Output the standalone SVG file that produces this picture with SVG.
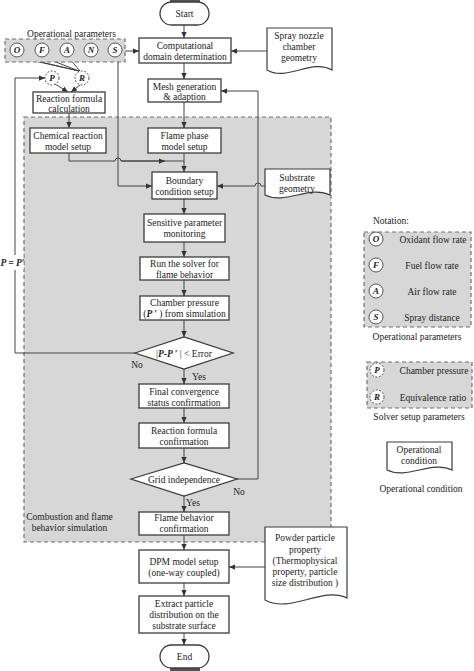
<svg xmlns="http://www.w3.org/2000/svg" width="474" height="671" viewBox="0 0 474 671">
<defs>
<style>
text{font-family:"Liberation Serif","Times New Roman",serif;font-size:9.5px;fill:#222;text-anchor:middle}
.box{fill:#fff;stroke:#3c3c3c;stroke-width:1.3}
.doc{fill:#fff;stroke:#3c3c3c;stroke-width:1.2}
.dash{fill:#d7d7d7;stroke:#707070;stroke-width:1.2;stroke-dasharray:4 3}
.ln{fill:none;stroke:#444;stroke-width:1}
.arr{fill:none;stroke:#444;stroke-width:1;marker-end:url(#ah)}
.cir{fill:#fff;stroke:#555;stroke-width:1}
.dcir{fill:#fff;stroke:#555;stroke-width:1;stroke-dasharray:2 1.5}
.sym{font-weight:bold;font-style:italic;font-size:9px}
.bi{font-weight:bold;font-style:italic}
.l{text-anchor:start}
</style>
<marker id="ah" viewBox="0 0 8 8" refX="8" refY="4" markerWidth="6" markerHeight="6" orient="auto" markerUnits="userSpaceOnUse">
<path d="M0,0.5 L8,4 L0,7.5 Z" fill="#333"/>
</marker>
</defs>

<!-- region -->
<g id="region">
<rect class="dash" x="24" y="117" width="307" height="425"/>
<text x="69.5" y="519.5">Combustion and flame</text>
<text x="69.5" y="530.5">behavior simulation</text>
</g>

<!-- connectors -->
<g id="connectors">
<path class="arr" d="M184,25 V38"/>
<path class="arr" d="M125,51 H139"/>
<path class="arr" d="M267,51 H231"/>
<path class="arr" d="M184,63 V79"/>
<path class="arr" d="M184,102 V128"/>
<path class="ln" d="M17,57 L79,71 M20,57 L79,71 M43,57 L79,71 M68,57 L80,71"/>
<path class="arr" d="M55,84 L68,92"/>
<path class="arr" d="M80,85 L71,92"/>
<path class="arr" d="M69,113 V128"/>
<path class="ln" d="M69,153 V161 H115 A3,3 0 0 1 121,161 H184"/>
<path class="arr" d="M121,161 H165"/>
<path class="arr" d="M184,153 V172"/>
<path class="arr" d="M118,62 V186 H152"/>
<path class="arr" d="M265,186 H261 A3,3 0 0 0 255,186 H217"/>
<path class="arr" d="M184,199 V214"/>
<path class="arr" d="M184,242 V257"/>
<path class="arr" d="M184,280 V296"/>
<path class="arr" d="M184,320 V337"/>
<path class="arr" d="M135,353 H15 V78 H45"/>
<path class="arr" d="M184,369 V384"/>
<path class="arr" d="M184,408 V423"/>
<path class="arr" d="M184,448 V463"/>
<path class="arr" d="M237,479 H258 V91 H221"/>
<path class="arr" d="M184,496 V512"/>
<path class="arr" d="M184,535 V550"/>
<path class="arr" d="M265,567 H229"/>
<path class="arr" d="M184,583 V596"/>
<path class="arr" d="M184,633 V645"/>
<text x="137" y="367.5">No</text>
<text x="199" y="379.5">Yes</text>
<text x="239" y="495">No</text>
<text x="193" y="505.5">Yes</text>
<rect x="0" y="255" width="23.4" height="15" fill="#fff"/>
<text x="12.5" y="266" class="bi" font-size="9">P = P′</text>
</g>

<!-- operational parameters -->
<g id="op-params">
<text x="71.5" y="37">Operational parameters</text>
<rect class="dash" x="5" y="39" width="120" height="23"/>
<circle class="cir" cx="17" cy="50" r="7"/><text class="sym" x="17" y="53">O</text>
<circle class="cir" cx="42" cy="50" r="7"/><text class="sym" x="42" y="53">F</text>
<circle class="cir" cx="67" cy="50" r="7"/><text class="sym" x="67" y="53">A</text>
<circle class="cir" cx="91" cy="50" r="7"/><text class="sym" x="91" y="53">N</text>
<circle class="cir" cx="115" cy="50" r="7"/><text class="sym" x="115" y="53">S</text>
</g>
<g id="solver-params">
<circle class="dcir" cx="52" cy="78" r="7"/><text class="sym" x="52" y="81">P</text>
<circle class="dcir" cx="82" cy="78" r="7"/><text class="sym" x="82" y="81">R</text>
</g>

<g id="start">
<rect x="170" y="0" width="30" height="2.5" fill="#555"/>
<rect class="box" x="160" y="2" width="49" height="23" rx="11.5"/>
<text x="184.5" y="17">Start</text>
</g>
<g id="computational">
<rect class="box" x="139" y="38" width="92" height="25"/>
<text x="185" y="48.5">Computational</text>
<text x="185" y="59.5">domain determination</text>
</g>
<g id="spray-nozzle">
<path class="doc" d="M267,28 H332 V70 C312,58 287,82 267,70 Z"/>
<text x="299" y="38.5">Spray nozzle</text>
<text x="299" y="49.5">chamber</text>
<text x="299" y="60.5">geometry</text>
</g>
<g id="mesh">
<rect class="box" x="148" y="79" width="73" height="23"/>
<text x="184.5" y="89.5">Mesh generation</text>
<text x="184.5" y="100">&amp; adaption</text>
</g>
<g id="reaction-calc">
<rect class="box" x="33" y="92" width="72" height="21"/>
<text x="69" y="101.5">Reaction formula</text>
<text x="69" y="111.5">calculation</text>
</g>
<g id="chemical">
<rect class="box" x="30" y="128" width="76" height="25"/>
<text x="68" y="138.5">Chemical reaction</text>
<text x="68" y="149.5">model setup</text>
</g>
<g id="flame-phase">
<rect class="box" x="148" y="128" width="73" height="25"/>
<text x="184.5" y="138.5">Flame phase</text>
<text x="184.5" y="149.5">model setup</text>
</g>
<g id="boundary">
<rect class="box" x="152" y="172" width="65" height="27"/>
<text x="184.5" y="183.5">Boundary</text>
<text x="184.5" y="194.5">condition setup</text>
</g>
<g id="substrate">
<path class="doc" d="M265,169 H330 V195 C310,185 285,205 265,195 Z"/>
<text x="297" y="180.5">Substrate</text>
<text x="297" y="191.5">geometry</text>
</g>
<g id="sensitive">
<rect class="box" x="144" y="214" width="81" height="28"/>
<text x="184.5" y="225.5">Sensitive parameter</text>
<text x="184.5" y="236.5">monitoring</text>
</g>
<g id="run-solver">
<rect class="box" x="140" y="257" width="89" height="23"/>
<text x="184.5" y="266.5">Run the solver for</text>
<text x="184.5" y="277.5">flame behavior</text>
</g>
<g id="chamber">
<rect class="box" x="140" y="296" width="89" height="24"/>
<text x="184.5" y="305.5">Chamber pressure</text>
<text x="184.5" y="316.5">(<tspan class="bi">P ′</tspan> ) from simulation</text>
</g>
<g id="error-check">
<path class="box" d="M135,353 L184,337 L233,353 L184,369 Z"/>
<text x="184" y="356.5">|<tspan class="bi">P-P ′</tspan> | &lt; Error</text>
</g>
<g id="final-convergence">
<rect class="box" x="139" y="384" width="90" height="24"/>
<text x="184" y="394.5">Final convergence</text>
<text x="184" y="405.5">status confirmation</text>
</g>
<g id="reaction-confirm">
<rect class="box" x="139" y="423" width="90" height="25"/>
<text x="184" y="433.5">Reaction formula</text>
<text x="184" y="444.5">confirmation</text>
</g>
<g id="grid">
<path class="box" d="M131,479 L184,463 L237,479 L184,496 Z"/>
<text x="184" y="482.5">Grid independence</text>
</g>
<g id="flame-confirm">
<rect class="box" x="139" y="512" width="90" height="23"/>
<text x="184" y="521">Flame behavior</text>
<text x="184" y="532">confirmation</text>
</g>
<g id="dpm">
<rect class="box" x="139" y="550" width="90" height="33"/>
<text x="184" y="565">DPM model setup</text>
<text x="184" y="576">(one-way coupled)</text>
</g>
<g id="powder">
<path class="doc" d="M265,527 H347 V598 C322,586 290,614 265,600 Z"/>
<text x="305" y="541">Powder particle</text>
<text x="305" y="552.5">property</text>
<text x="305" y="564">(Thermophysical</text>
<text x="305" y="575">property, particle</text>
<text x="305" y="586">size distribution )</text>
</g>
<g id="extract">
<rect class="box" x="139" y="596" width="90" height="37"/>
<text x="184" y="607">Extract particle</text>
<text x="184" y="618">distribution on the</text>
<text x="184" y="629">substrate surface</text>
</g>
<g id="end">
<rect x="170" y="668" width="30" height="3" fill="#555"/>
<rect class="box" x="160" y="645" width="49" height="23" rx="11.5"/>
<text x="184.5" y="660">End</text>
</g>

<!-- notation -->
<g id="notation">
<text class="l" x="373" y="223.5">Notation:</text>
<rect class="dash" x="364" y="232" width="107" height="95"/>
<circle class="cir" cx="376" cy="239" r="7"/><text class="sym" x="376" y="242">O</text>
<text x="433" y="242.5">Oxidant flow rate</text>
<circle class="cir" cx="376" cy="265" r="7"/><text class="sym" x="376" y="268">F</text>
<text x="432" y="268.5">Fuel flow rate</text>
<circle class="cir" cx="376" cy="291" r="7"/><text class="sym" x="376" y="294">A</text>
<text x="432" y="294.5">Air flow rate</text>
<circle class="cir" cx="376" cy="317" r="7"/><text class="sym" x="376" y="320">S</text>
<text x="432" y="320.5">Spray distance</text>
<text x="417" y="340">Operational parameters</text>
<rect class="dash" x="367" y="362" width="105" height="46"/>
<circle class="dcir" cx="377" cy="370" r="7"/><text class="sym" x="377" y="373">P</text>
<text x="434" y="373.5">Chamber pressure</text>
<circle class="dcir" cx="377" cy="397" r="7"/><text class="sym" x="377" y="400">R</text>
<text x="433" y="400.5">Equivalence ratio</text>
<text x="419" y="419.5">Solver setup parameters</text>
<path class="doc" d="M387,442 H452 V470 C432,460 407,480 387,470 Z"/>
<text x="419" y="452.5">Operational</text>
<text x="419" y="463.5">condition</text>
<text x="421" y="491.5">Operational condition</text>
</g>
</svg>
